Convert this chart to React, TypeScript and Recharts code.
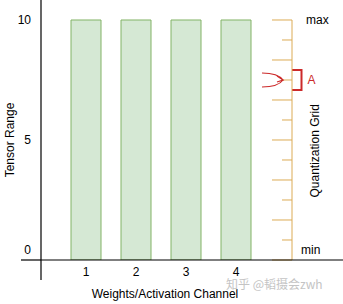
import React from 'react';
import {
  ComposedChart,
  Bar,
  XAxis,
  YAxis,
  ReferenceLine,
  ReferenceDot,
  ReferenceArea,
} from 'recharts';

// channels and their tensor range
const CHANNELS = [1, 2, 3, 4];
const RANGES = [10, 10, 10, 10];
const Y_TICKS = [0, 5, 10];

// quantization grid: 12 steps between min and max
const GRID_MIN = 0;
const GRID_MAX = 10;
const GRID_STEPS = 12;
const GRID_X = 5.12;
const LONG_TICK_X = 4.72;
const SHORT_TICK_X = 4.92;

// the value "A" is rounded to, and its bin
const A_LEVEL = 9;

const FONT = '"Liberation Sans", Arial, sans-serif';
const BAR_FILL = '#d5e8d4';
const BAR_STROKE = '#82b366';
const GRID_COLOR = '#dcab55';
const RED = '#cc2a2a';

const data = CHANNELS.map((ch, i) => ({ ch, range: RANGES[i] }));
const step = (GRID_MAX - GRID_MIN) / GRID_STEPS;
const gridLevels = Array.from({ length: GRID_STEPS + 1 }, (_, k) => ({
  k,
  y: GRID_MIN + k * step,
}));

const YTick = (props: any) => {
  const { x, y, payload } = props;
  return (
    <text
      x={x}
      y={payload.value === 0 ? y - 10 : y}
      dy={4}
      textAnchor="end"
      fontSize={12}
      fill="#000"
      fontFamily={FONT}
    >
      {payload.value}
    </text>
  );
};

const Arrow = (props: any) => {
  const { cx, cy } = props;
  return (
    <g fill="none" stroke={RED} strokeWidth={1.2}>
      <path d={`M ${cx - 21} ${cy - 7} Q ${cx - 5} ${cy - 7} ${cx} ${cy}`} />
      <path d={`M ${cx - 21} ${cy + 7} Q ${cx - 5} ${cy + 7} ${cx} ${cy}`} />
      <path d={`M ${cx - 6} ${cy - 4} L ${cx} ${cy} L ${cx - 6} ${cy + 2}`} />
    </g>
  );
};

const Bracket = (props: any) => {
  const { x, y, width, height } = props;
  return (
    <path
      d={`M ${x} ${y} L ${x + width} ${y} L ${x + width} ${y + height} L ${x} ${y + height}`}
      fill="none"
      stroke={RED}
      strokeWidth={2}
    />
  );
};

export default function App() {
  return (
    <div style={{ position: 'absolute', left: 0, top: 0, width: 343, height: 304, background: '#fff' }}>
      <ComposedChart
        width={343}
        height={304}
        data={data}
        margin={{ top: 0, right: 0, bottom: 0, left: 0 }}
        style={{ fontFamily: FONT }}
      >
        <XAxis
          dataKey="ch"
          type="number"
          domain={[0.1, 6.14]}
          ticks={CHANNELS}
          allowDataOverflow
          height={44}
          tickLine={false}
          tickSize={0}
          tickMargin={7}
          axisLine={{ stroke: '#000', strokeWidth: 1.2 }}
          tick={{ fontSize: 12, fill: '#000' }}
          label={{
            content: () => (
              <text x={165} y={298} textAnchor="middle" fontSize={12} fill="#000" fontFamily={FONT}>
                Weights/Activation Channel
              </text>
            ),
          }}
        />
        <YAxis
          type="number"
          domain={[0, 10.8333]}
          ticks={Y_TICKS}
          allowDataOverflow
          width={41}
          tickLine={false}
          tickSize={0}
          tickMargin={10}
          axisLine={{ stroke: '#000', strokeWidth: 1.2 }}
          tick={<YTick />}
          label={{
            content: () => (
              <text
                x={14}
                y={140}
                transform="rotate(-90, 14, 140)"
                textAnchor="middle"
                fontSize={12}
                fill="#000"
                fontFamily={FONT}
              >
                Tensor Range
              </text>
            ),
          }}
        />
        {/* axis extensions past the origin */}
        <ReferenceLine
          segment={[{ x: -0.3, y: 0 }, { x: 0.1, y: 0 }]}
          stroke="#000"
          strokeWidth={1.2}
          ifOverflow="visible"
        />
        <ReferenceLine
          segment={[{ x: 0.1, y: 0 }, { x: 0.1, y: -0.833 }]}
          stroke="#000"
          strokeWidth={1.2}
          ifOverflow="visible"
        />
        <Bar
          dataKey="range"
          barSize={30}
          fill={BAR_FILL}
          stroke={BAR_STROKE}
          isAnimationActive={false}
        />
        {/* quantization grid */}
        <ReferenceLine
          segment={[{ x: GRID_X, y: GRID_MIN }, { x: GRID_X, y: GRID_MAX }]}
          stroke={GRID_COLOR}
          ifOverflow="visible"
        />
        {gridLevels.map((g) => (
          <ReferenceLine
            key={g.k}
            segment={[
              { x: g.k % 2 === 0 ? LONG_TICK_X : SHORT_TICK_X, y: g.y },
              { x: GRID_X, y: g.y },
            ]}
            stroke={GRID_COLOR}
            ifOverflow="visible"
          />
        ))}
        <ReferenceDot
          x={5.3}
          y={GRID_MAX}
          r={0}
          ifOverflow="visible"
          label={{ value: 'max', position: 'right', fontSize: 12, fill: '#000' }}
        />
        <ReferenceDot
          x={5.2}
          y={GRID_MIN + 0.42}
          r={0}
          ifOverflow="visible"
          label={{ value: 'min', position: 'right', fontSize: 12, fill: '#000' }}
        />
        <ReferenceDot
          x={5.58}
          y={4.55}
          r={0}
          ifOverflow="visible"
          label={{
            content: (p: any) => {
              const { viewBox } = p;
              const cx = viewBox.x + viewBox.width / 2;
              const cy = viewBox.y + viewBox.height / 2;
              return (
                <text
                  x={cx}
                  y={cy}
                  dy={4}
                  transform={`rotate(-90, ${cx}, ${cy})`}
                  textAnchor="middle"
                  fontSize={12}
                  fill="#000"
                  fontFamily={FONT}
                >
                  Quantization Grid
                </text>
              );
            },
          }}
        />
        {/* rounding bin of A */}
        <ReferenceArea
          x1={GRID_X}
          x2={5.31}
          y1={(A_LEVEL - 0.5) * step}
          y2={(A_LEVEL + 0.5) * step}
          ifOverflow="visible"
          shape={<Bracket />}
        />
        <ReferenceDot
          x={5.33}
          y={A_LEVEL * step}
          r={0}
          ifOverflow="visible"
          label={{ value: 'A', position: 'right', fontSize: 12, fill: RED }}
        />
        <ReferenceDot
          x={4.94}
          y={A_LEVEL * step}
          r={0}
          ifOverflow="visible"
          shape={<Arrow />}
        />
      </ComposedChart>
      <div
        style={{
          position: 'absolute',
          left: 226,
          top: 275,
          fontSize: 12,
          color: '#c4c4c4',
          fontFamily: '"Noto Sans CJK SC", sans-serif',
          whiteSpace: 'nowrap',
        }}
      >
        知乎 @韬摄会zwh
      </div>
    </div>
  );
}
